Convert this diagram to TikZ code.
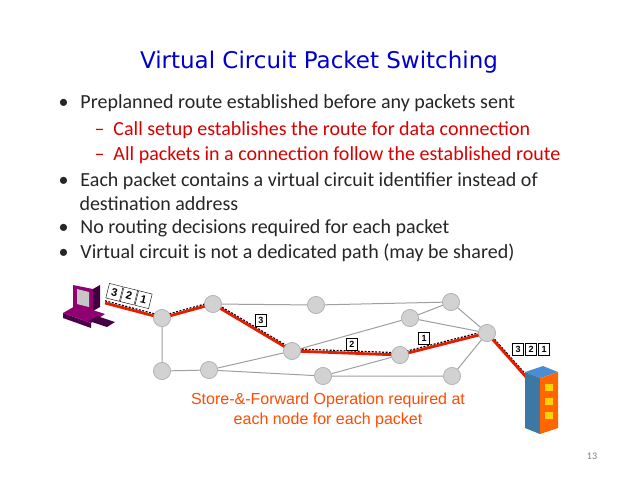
\documentclass[tikz,border=0pt]{standalone}
\usepackage{fontspec}
\setmainfont{Carlito}
\newfontfamily\arialf{Liberation Sans}
\newfontfamily\titlef{DejaVu Sans}
\begin{document}
\begin{tikzpicture}[x=1pt,y=-1pt,
  nd/.style={circle,fill=gray!35,draw=gray!60,line width=0.6pt,minimum size=17pt,inner sep=0pt},
  ln/.style={draw=gray!75,line width=1pt},
  pk/.style={draw=black,fill=white,font=\arialf\bfseries\fontsize{9}{9}\selectfont,inner sep=1pt,minimum width=11pt,minimum height=12pt},
  rt/.style={draw=red!75!orange!90!black,line width=2.8pt},
  rtb/.style={draw=black,line width=1.2pt,dash pattern=on 2pt off 1.5pt},
  bul/.style={anchor=west,font=\fontsize{20}{22}\selectfont,text=black!85},
  sub/.style={anchor=west,font=\fontsize{20}{22}\selectfont,text=red!85!black}]
\useasboundingbox (0,0) rectangle (638,479);
\fill[white] (0,0) rectangle (638,479);
\node[font=\titlef\fontsize{23}{26}\selectfont,text=blue!80!black] (title) at (319,62) {Virtual Circuit Packet Switching};
\node[bul] (b1) at (55,103) {\textbullet\hspace{12pt}Preplanned route established before any packets sent};
\node[sub] (s1) at (91,130) {--\hspace{9pt}Call setup establishes the route for data connection};
\node[sub] (s2) at (91,155) {--\hspace{9pt}All packets in a connection follow the established route};
\node[bul] (b2) at (55,181) {\textbullet\hspace{12pt}Each packet contains a virtual circuit identifier instead of};
\node[bul] (b2b) at (76,204) {destination address};
\node[bul] (b3) at (55,228) {\textbullet\hspace{12pt}No routing decisions required for each packet};
\node[bul] (b4) at (55,253) {\textbullet\hspace{12pt}Virtual circuit is not a dedicated path (may be shared)};
% nodes
\node[nd] (A) at (162,318) {};
\node[nd] (B) at (213,304) {};
\node[nd] (C) at (316,305) {};
\node[nd] (D) at (451,302) {};
\node[nd] (E) at (410,318) {};
\node[nd] (F) at (487,333) {};
\node[nd] (G) at (292,351) {};
\node[nd] (H) at (400,355) {};
\node[nd] (I) at (162,371) {};
\node[nd] (J) at (209,370) {};
\node[nd] (K) at (323,376) {};
\node[nd] (L) at (452,376) {};
\draw[ln] (B)--(C) (C)--(D) (D)--(E) (E)--(F) (D)--(F) (G)--(E) (A)--(I) (I)--(J) (J)--(G) (J)--(K) (K)--(L) (K)--(H) (F)--(L);
\coordinate (pc) at (105,303);
\coordinate (sv) at (527,378);
\draw[rtb] ([yshift=2.2pt]pc) -- ([yshift=2.2pt]A.center) -- ([yshift=2.2pt]B.center) -- ([yshift=2.2pt]G.center) -- ([yshift=2.2pt]H.center) -- ([yshift=2.2pt]F.center) -- ([yshift=2.2pt]sv);
\draw[rt] (pc) -- (A.center) -- (B.center) -- (G.center) -- (H.center) -- (F.center) -- (sv);
\foreach \n in {A,B,C,D,E,F,G,H,I,J,K,L}{\node[nd] at (\n) {};}
% computer
\begin{scope}[shift={(85,305)}]
 \fill[violet!60!black] (-22,8) -- (6,18) -- (6,23) -- (-22,13) -- cycle;
 \fill[violet!75!purple] (-22,8) -- (6,18) -- (20,9) -- (-8,0) -- cycle;
 \fill[violet!75!purple] (-12,-20) -- (8,-16) -- (8,6) -- (-12,2) -- cycle;
 \fill[gray!45] (-8,-16) -- (4,-13) -- (4,2) -- (-8,-1) -- cycle;
 \fill[violet!50!black] (8,-16) -- (15,-20) -- (15,2) -- (8,6) -- cycle;
 \fill[violet!55!black] (4,16) -- (22,22) -- (30,17) -- (12,11) -- cycle;
\end{scope}
% server
\begin{scope}[shift={(540,402)}]
 \fill[cyan!55!blue!75] (-15,-30) -- (3,-36) -- (18,-30) -- (0,-24) -- cycle;
 \fill[cyan!70!blue!70!black] (-15,-30) -- (0,-24) -- (0,32) -- (-15,26) -- cycle;
 \fill[orange!80!red] (0,-24) -- (18,-30) -- (18,26) -- (0,32) -- cycle;
 \fill[yellow!70!orange] (5,-18) rectangle (13,-11);
 \fill[yellow!70!orange] (5,-4) rectangle (13,3);
 \fill[yellow!70!orange] (5,10) rectangle (13,17);
\end{scope}
% packets
\begin{scope}[shift={(129,296)},rotate=-14]
 \node[pk,minimum width=14pt,minimum height=15pt,font=\arialf\bfseries\fontsize{11}{11}\selectfont,rotate=-14] (p3) at (-15,0) {3};
 \node[pk,minimum width=14pt,minimum height=15pt,font=\arialf\bfseries\fontsize{11}{11}\selectfont,rotate=-14] (p2) at (0,0) {2};
 \node[pk,minimum width=14pt,minimum height=15pt,font=\arialf\bfseries\fontsize{11}{11}\selectfont,rotate=-14] (p1) at (15,0) {1};
\end{scope}
\node[pk] (q3) at (261,320) {3};
\node[pk] (q2) at (352,344) {2};
\node[pk] (q1) at (424,338) {1};
\node[pk] (r3) at (518,349) {3};
\node[pk] (r2) at (531,349) {2};
\node[pk] (r1) at (544,349) {1};
\node[font=\arialf\fontsize{16}{20}\selectfont,text=orange!60!red,align=center] (cap) at (328,410) {Store-\&-Forward Operation required at\\each node for each packet};
\node[font=\fontsize{10}{10}\selectfont,text=gray] (pg) at (592,456) {13};
\end{tikzpicture}
\end{document}
